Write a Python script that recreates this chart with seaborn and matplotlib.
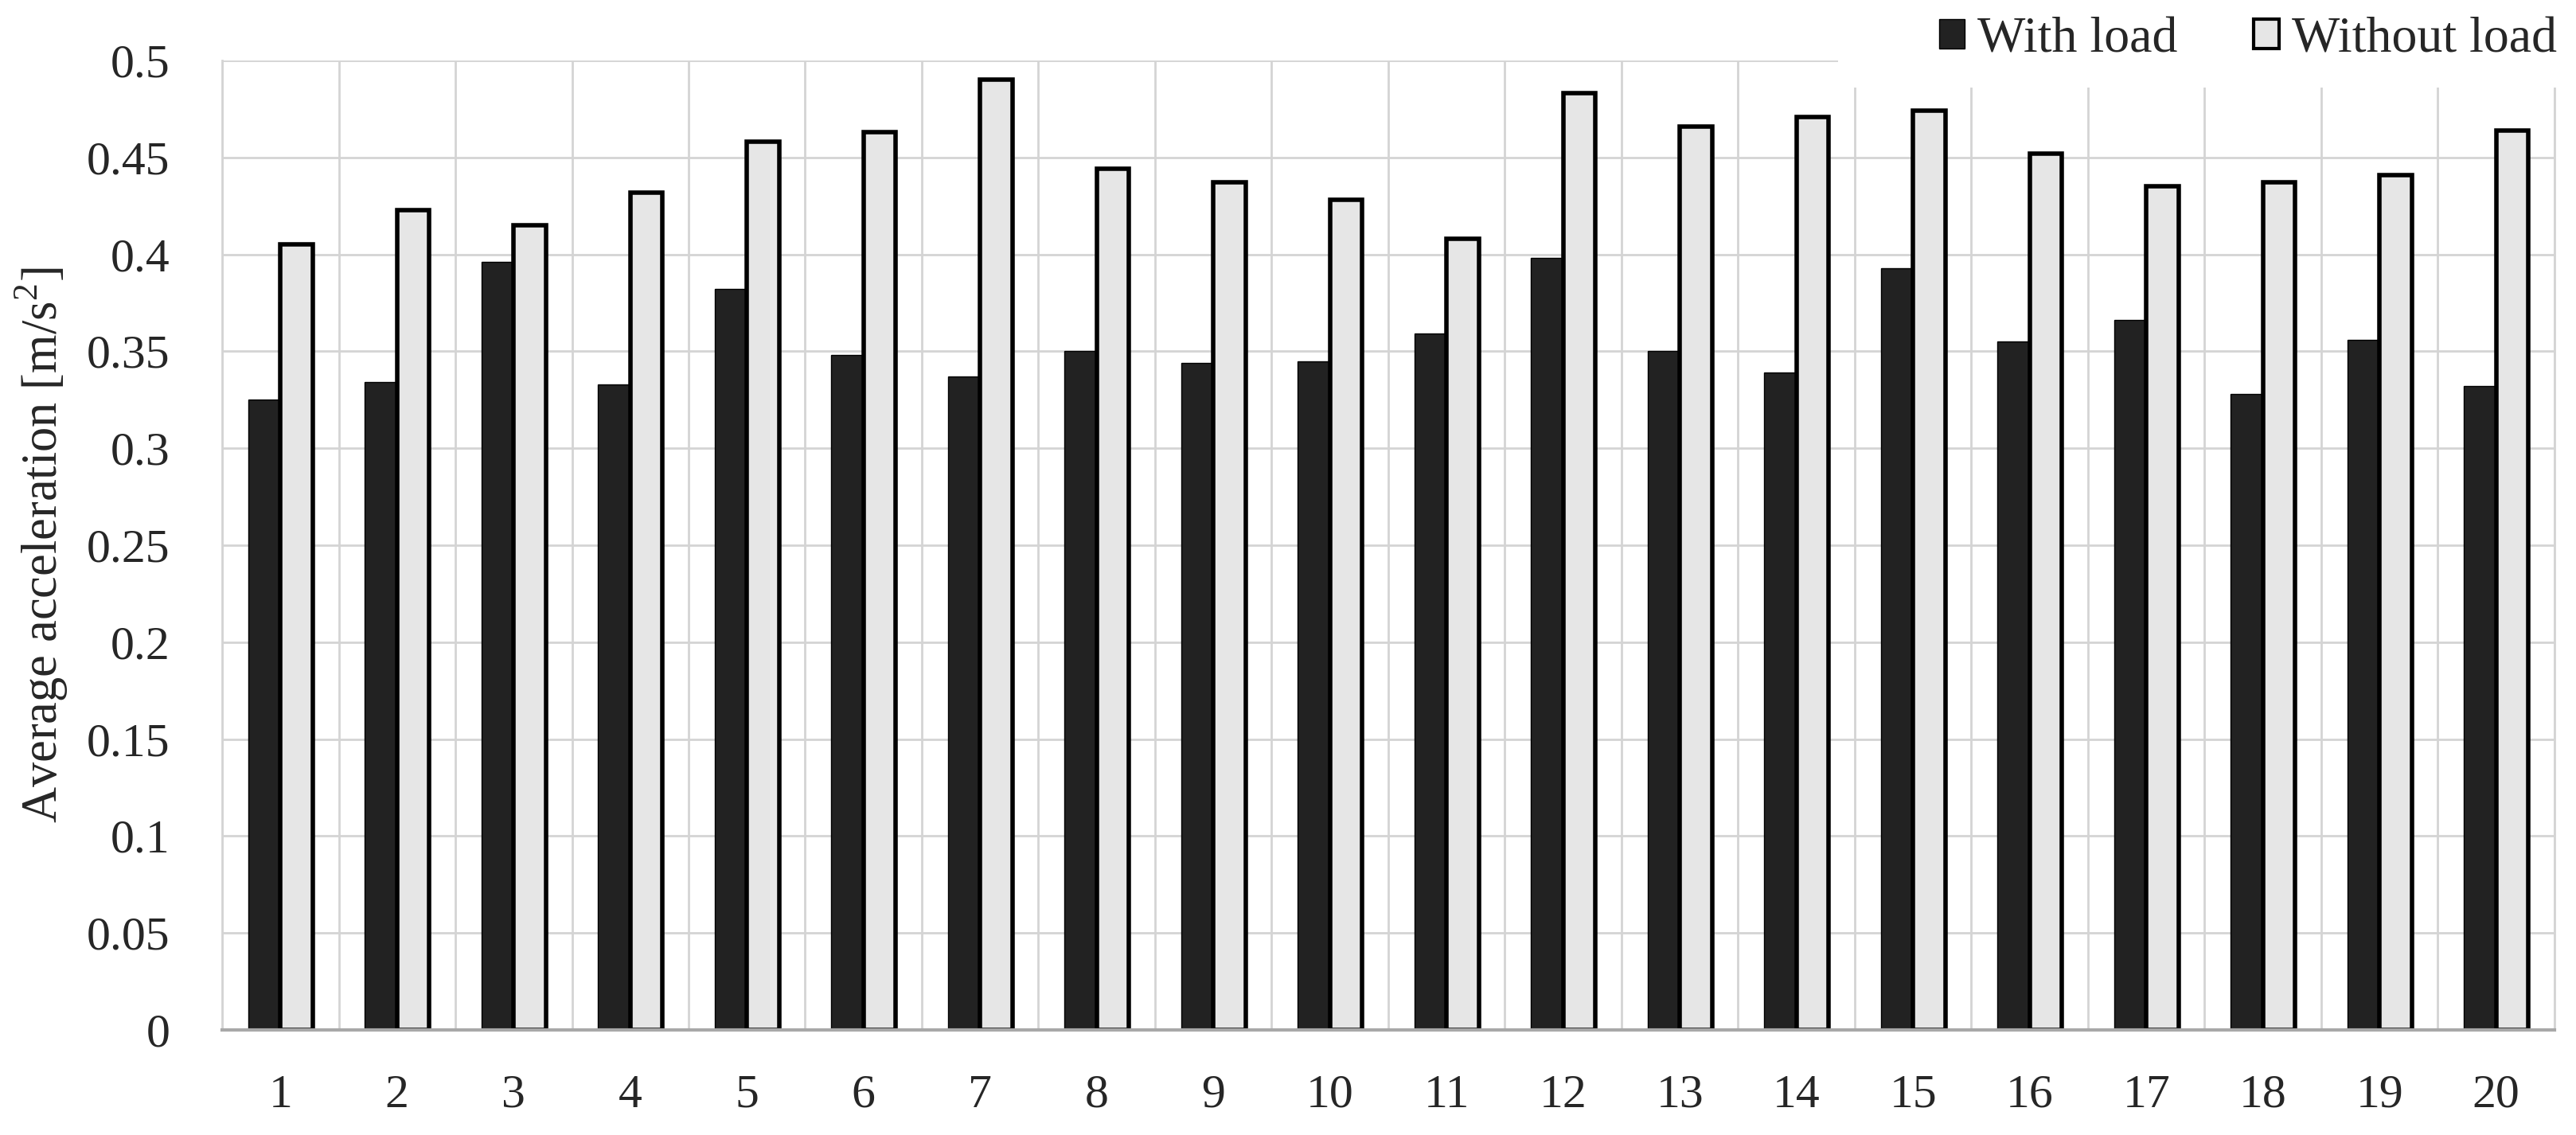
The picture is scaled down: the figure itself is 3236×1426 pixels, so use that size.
import numpy as np
import pandas as pd
import matplotlib
matplotlib.use('Agg')
import matplotlib.pyplot as plt
from matplotlib.patches import Patch, Rectangle
import seaborn as sns

trials = ['1', '2', '3', '4', '5', '6', '7', '8', '9', '10',
          '11', '12', '13', '14', '15', '16', '17', '18', '19', '20']
with_load = [0.325, 0.334, 0.396, 0.333, 0.382, 0.348, 0.337, 0.350, 0.344, 0.345,
             0.359, 0.398, 0.350, 0.339, 0.393, 0.355, 0.366, 0.328, 0.356, 0.332]
without_load = [0.405, 0.423, 0.415, 0.432, 0.458, 0.463, 0.490, 0.444, 0.437, 0.428,
                0.408, 0.483, 0.466, 0.471, 0.474, 0.452, 0.435, 0.437, 0.441, 0.464]
series = ['With load', 'Without load']
ytick_values = [0, 0.05, 0.1, 0.15, 0.2, 0.25, 0.3, 0.35, 0.4, 0.45, 0.5]
ytick_labels = ['0', '0.05', '0.1', '0.15', '0.2', '0.25', '0.3', '0.35', '0.4', '0.45', '0.5']

dark = '#222222'
light = '#e6e6e6'
grid_c = '#d4d4d4'

sns.set_style('white')
plt.rcParams['font.family'] = ['Liberation Serif', 'DejaVu Serif']
plt.rcParams['mathtext.fontset'] = 'custom'
plt.rcParams['mathtext.rm'] = 'Liberation Serif'

df = pd.DataFrame({
    'trial': trials * 2,
    'acc': with_load + without_load,
    'load': [series[0]] * len(trials) + [series[1]] * len(trials),
})

fig = plt.figure(figsize=(32.37, 14.26), dpi=100)
ax = fig.add_axes([279 / 3237, 1 - 1294 / 1426, 2930 / 3237, 1218 / 1426])

sns.barplot(data=df, x='trial', y='acc', hue='load', order=trials, hue_order=series,
            palette=[dark, light], saturation=1, width=0.55, legend=False, ax=ax)

for bar in ax.containers[0]:
    bar.set_edgecolor('black')
    bar.set_linewidth(1)
for bar in ax.containers[1]:
    bar.set_edgecolor('black')
    bar.set_linewidth(4)

ax.set_xlim(-0.5, len(trials) - 0.5)
ax.set_ylim(0, 0.5)
ax.set_yticks(ytick_values)
ax.set_yticklabels(ytick_labels)
ax.set_xticks(np.arange(-0.5, len(trials), 1), minor=True)
ax.set_axisbelow(True)
ax.grid(which='major', axis='y', color=grid_c, linewidth=2)
ax.grid(which='minor', axis='x', color=grid_c, linewidth=2)
ax.grid(which='major', axis='x', visible=False)

ax.tick_params(axis='y', which='both', length=0, pad=47, labelsize=43)
ax.tick_params(axis='x', which='both', length=0, pad=40, labelsize=43)

ax.spines['top'].set_visible(False)
for s in ['left', 'right']:
    ax.spines[s].set_color(grid_c)
    ax.spines[s].set_linewidth(2)
ax.spines['bottom'].set_color('#a8a8a8')
ax.spines['bottom'].set_linewidth(3)

ax.set_xlabel('')
ax.set_ylabel(r'Average acceleration [m/s$^{\mathregular{2}}$]', fontsize=45)
ax.yaxis.set_label_coords(-0.0652, 0.5)

# white block behind the legend, as in the original
fig.add_artist(Rectangle((2309 / 3237, 1 - 110 / 1426), 0.3, 0.08,
                         transform=fig.transFigure, facecolor='white',
                         edgecolor='none', zorder=3))

handles = [Patch(facecolor=dark, edgecolor='black', linewidth=1),
           Patch(facecolor=light, edgecolor='black', linewidth=3)]
leg = fig.legend(handles, series, loc='center right',
                 bbox_to_anchor=(3212 / 3237, 1 - 50 / 1426), ncol=2,
                 frameon=False, fontsize=46, handlelength=0.5, handleheight=0.5,
                 handletextpad=0.25, columnspacing=1.5, borderpad=0, borderaxespad=0)
leg.set_zorder(5)

fig.savefig('out.png', dpi=100)
